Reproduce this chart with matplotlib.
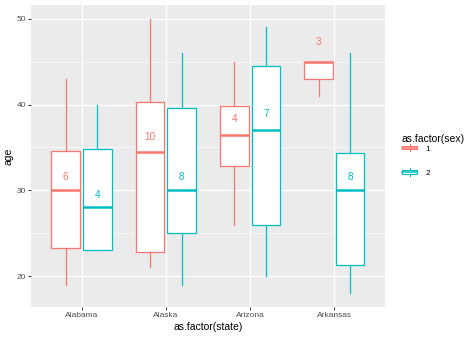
import matplotlib
matplotlib.use("Agg")
import matplotlib.pyplot as plt
from matplotlib.legend_handler import HandlerBase
from matplotlib.patches import Rectangle
from matplotlib.lines import Line2D

plt.rcParams['font.family'] = ['Liberation Sans', 'DejaVu Sans']

states = ["Alabama", "Alaska", "Arizona", "Arkansas"]
sexes = ["1", "2"]
colors = ["#F8766D", "#00BFC4"]

# box statistics, per sex, in state order
whislo = [[19, 21, 26, 41], [23, 19, 20, 18]]
q1 = [[23.25, 22.8, 32.8, 43], [23, 25, 26, 21.3]]
med = [[30, 34.5, 36.5, 45], [28, 30, 37, 30]]
q3 = [[34.6, 40.3, 39.8, 45], [34.8, 39.6, 44.5, 34.3]]
whishi = [[43, 50, 45, 45], [40, 46, 49, 46]]
counts = [[6, 10, 4, 3], [4, 8, 7, 8]]


class BoxKeyHandler(HandlerBase):
    # small boxplot glyph for the legend, like ggplot's key
    def create_artists(self, legend, orig_handle, xdescent, ydescent,
                       width, height, fontsize, trans):
        c = orig_handle.get_color()
        x0, y0 = -xdescent, -ydescent
        cx = x0 + width / 2
        bw = width * 0.85
        box = Rectangle((cx - bw / 2, y0 + height * 0.28), bw, height * 0.44,
                        facecolor="white", edgecolor=c, lw=0.8, transform=trans)
        md = Line2D([cx - bw / 2, cx + bw / 2], [y0 + height / 2] * 2,
                    color=c, lw=1.1, transform=trans)
        w1 = Line2D([cx, cx], [y0, y0 + height * 0.28],
                    color=c, lw=0.8, transform=trans)
        w2 = Line2D([cx, cx], [y0 + height * 0.72, y0 + height],
                    color=c, lw=0.8, transform=trans)
        return [box, md, w1, w2]


fig = plt.figure(figsize=(4.74, 3.38), dpi=100)
ax = fig.add_axes([0.0654, 0.092, 0.7466, 0.893])
ax.set_facecolor("#EBEBEB")

dodge = 0.1875
width = 0.34
for s in range(2):
    stats = []
    for i in range(len(states)):
        stats.append(dict(med=med[s][i], q1=q1[s][i], q3=q3[s][i],
                          whislo=whislo[s][i], whishi=whishi[s][i], fliers=[]))
    pos = [i + 1 + (2 * s - 1) * dodge for i in range(len(states))]
    c = colors[s]
    ax.bxp(stats, positions=pos, widths=width, showcaps=False, patch_artist=True,
           manage_ticks=False,
           boxprops=dict(facecolor="white", edgecolor=c, lw=0.9),
           whiskerprops=dict(color=c, lw=0.9),
           medianprops=dict(color=c, lw=1.8, solid_capstyle="butt"),
           zorder=3)
    for i, p in enumerate(pos):
        ax.text(p, med[s][i] * 1.05, str(counts[s][i]), color=c, fontsize=7.2,
                ha="center", va="center", zorder=4)

ax.set_xlim(0.4, 4.6)
ax.set_ylim(16.4, 51.6)
ax.set_xticks(range(1, len(states) + 1))
ax.set_xticklabels(states)
ax.set_yticks([20, 30, 40, 50])
ax.set_yticks([25, 35, 45], minor=True)
ax.set_xticks([], minor=True)
ax.grid(True, which="major", color="white", lw=0.9)
ax.grid(True, which="minor", axis="y", color="white", lw=0.45)
ax.set_axisbelow(True)
for sp in ax.spines.values():
    sp.set_visible(False)
ax.tick_params(which="major", length=2.2, width=0.7, color="#333333",
               labelsize=6, labelcolor="#4D4D4D", pad=1.5)
ax.tick_params(which="minor", length=0)
ax.set_xlabel("as.factor(state)", fontsize=7.5, labelpad=2)
ax.set_ylabel("age", fontsize=7.5, labelpad=2)

# legend title drawn on its own so the keys sit close under it
fig.text(0.846, 0.589, "as.factor(sex)", fontsize=7.5, ha="left", va="center")
handles = [Line2D([], [], color=c) for c in colors]
fig.legend(handles, sexes, loc="upper left", bbox_to_anchor=(0.845, 0.574),
           frameon=False, fontsize=6, handler_map={Line2D: BoxKeyHandler()},
           handlelength=2.2, handleheight=1.0, handletextpad=0.75,
           labelspacing=1.9, borderpad=0, borderaxespad=0)

fig.savefig("out.png", dpi=100)
